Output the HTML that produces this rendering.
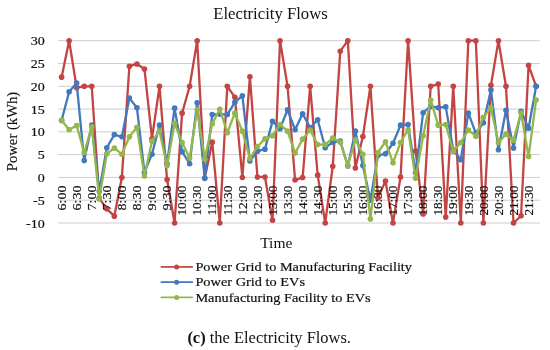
<!DOCTYPE html>
<html><head><meta charset="utf-8"><title>Electricity Flows</title>
<style>html,body{margin:0;padding:0;background:#fff}svg{display:block}text{font-family:"Liberation Serif",serif;fill:#111}</style></head><body>
<svg width="550" height="350" viewBox="0 0 550 350">
<rect width="550" height="350" fill="#fff"/>
<line x1="58.2" x2="539.8" y1="40.70" y2="40.70" stroke="#cdcdcd" stroke-width="1"/>
<text transform="translate(44.7,45.20) scale(1.04,1)" font-size="13.5" stroke="#111" stroke-width="0.2" text-anchor="end">30</text>
<line x1="58.2" x2="539.8" y1="63.49" y2="63.49" stroke="#cdcdcd" stroke-width="1"/>
<text transform="translate(44.7,67.99) scale(1.04,1)" font-size="13.5" stroke="#111" stroke-width="0.2" text-anchor="end">25</text>
<line x1="58.2" x2="539.8" y1="86.28" y2="86.28" stroke="#cdcdcd" stroke-width="1"/>
<text transform="translate(44.7,90.78) scale(1.04,1)" font-size="13.5" stroke="#111" stroke-width="0.2" text-anchor="end">20</text>
<line x1="58.2" x2="539.8" y1="109.06" y2="109.06" stroke="#cdcdcd" stroke-width="1"/>
<text transform="translate(44.7,113.56) scale(1.04,1)" font-size="13.5" stroke="#111" stroke-width="0.2" text-anchor="end">15</text>
<line x1="58.2" x2="539.8" y1="131.85" y2="131.85" stroke="#cdcdcd" stroke-width="1"/>
<text transform="translate(44.7,136.35) scale(1.04,1)" font-size="13.5" stroke="#111" stroke-width="0.2" text-anchor="end">10</text>
<line x1="58.2" x2="539.8" y1="154.64" y2="154.64" stroke="#cdcdcd" stroke-width="1"/>
<text transform="translate(44.7,159.14) scale(1.04,1)" font-size="13.5" stroke="#111" stroke-width="0.2" text-anchor="end">5</text>
<line x1="58.2" x2="539.8" y1="177.43" y2="177.43" stroke="#cdcdcd" stroke-width="1"/>
<text transform="translate(44.7,181.93) scale(1.04,1)" font-size="13.5" stroke="#111" stroke-width="0.2" text-anchor="end">0</text>
<line x1="58.2" x2="539.8" y1="200.21" y2="200.21" stroke="#cdcdcd" stroke-width="1"/>
<text transform="translate(44.7,204.71) scale(1.04,1)" font-size="13.5" stroke="#111" stroke-width="0.2" text-anchor="end">-5</text>
<line x1="58.2" x2="539.8" y1="223.00" y2="223.00" stroke="#cdcdcd" stroke-width="1"/>
<text transform="translate(44.7,227.50) scale(1.04,1)" font-size="13.5" stroke="#111" stroke-width="0.2" text-anchor="end">-10</text>
<polyline points="61.60,77.16 69.13,40.70 76.66,87.64 84.20,86.28 91.73,86.28 99.26,198.39 106.79,208.87 114.32,216.16 121.86,177.43 129.39,66.22 136.92,63.94 144.45,68.96 151.98,138.69 159.52,86.28 167.05,179.48 174.58,223.00 182.11,113.16 189.64,86.28 197.18,40.70 204.71,178.34 212.24,142.15 219.77,223.00 227.30,86.28 234.84,97.21 242.37,177.43 249.90,76.70 257.43,176.97 264.96,176.97 272.50,220.27 280.03,40.70 287.56,86.28 295.09,180.02 302.62,177.61 310.16,86.28 317.69,175.15 325.22,223.00 332.75,166.26 340.28,51.18 347.82,40.70 355.35,168.04 362.88,136.54 370.41,86.28 377.94,197.93 385.48,181.07 393.01,223.00 400.54,176.97 408.07,40.70 415.60,150.99 423.14,213.88 430.67,86.28 438.20,84.00 445.73,217.08 453.26,86.28 460.80,223.00 468.33,40.70 475.86,40.70 483.39,223.00 490.92,85.36 498.46,40.70 505.99,86.28 513.52,223.00 521.05,215.71 528.58,65.31 536.12,86.28" fill="none" stroke="#c24543" stroke-width="2.3" stroke-linejoin="round" stroke-linecap="round"/>
<g fill="#c24543"><circle cx="61.60" cy="77.16" r="2.8"/><circle cx="69.13" cy="40.70" r="2.8"/><circle cx="76.66" cy="87.64" r="2.8"/><circle cx="84.20" cy="86.28" r="2.8"/><circle cx="91.73" cy="86.28" r="2.8"/><circle cx="99.26" cy="198.39" r="2.8"/><circle cx="106.79" cy="208.87" r="2.8"/><circle cx="114.32" cy="216.16" r="2.8"/><circle cx="121.86" cy="177.43" r="2.8"/><circle cx="129.39" cy="66.22" r="2.8"/><circle cx="136.92" cy="63.94" r="2.8"/><circle cx="144.45" cy="68.96" r="2.8"/><circle cx="151.98" cy="138.69" r="2.8"/><circle cx="159.52" cy="86.28" r="2.8"/><circle cx="167.05" cy="179.48" r="2.8"/><circle cx="174.58" cy="223.00" r="2.8"/><circle cx="182.11" cy="113.16" r="2.8"/><circle cx="189.64" cy="86.28" r="2.8"/><circle cx="197.18" cy="40.70" r="2.8"/><circle cx="204.71" cy="178.34" r="2.8"/><circle cx="212.24" cy="142.15" r="2.8"/><circle cx="219.77" cy="223.00" r="2.8"/><circle cx="227.30" cy="86.28" r="2.8"/><circle cx="234.84" cy="97.21" r="2.8"/><circle cx="242.37" cy="177.43" r="2.8"/><circle cx="249.90" cy="76.70" r="2.8"/><circle cx="257.43" cy="176.97" r="2.8"/><circle cx="264.96" cy="176.97" r="2.8"/><circle cx="272.50" cy="220.27" r="2.8"/><circle cx="280.03" cy="40.70" r="2.8"/><circle cx="287.56" cy="86.28" r="2.8"/><circle cx="295.09" cy="180.02" r="2.8"/><circle cx="302.62" cy="177.61" r="2.8"/><circle cx="310.16" cy="86.28" r="2.8"/><circle cx="317.69" cy="175.15" r="2.8"/><circle cx="325.22" cy="223.00" r="2.8"/><circle cx="332.75" cy="166.26" r="2.8"/><circle cx="340.28" cy="51.18" r="2.8"/><circle cx="347.82" cy="40.70" r="2.8"/><circle cx="355.35" cy="168.04" r="2.8"/><circle cx="362.88" cy="136.54" r="2.8"/><circle cx="370.41" cy="86.28" r="2.8"/><circle cx="377.94" cy="197.93" r="2.8"/><circle cx="385.48" cy="181.07" r="2.8"/><circle cx="393.01" cy="223.00" r="2.8"/><circle cx="400.54" cy="176.97" r="2.8"/><circle cx="408.07" cy="40.70" r="2.8"/><circle cx="415.60" cy="150.99" r="2.8"/><circle cx="423.14" cy="213.88" r="2.8"/><circle cx="430.67" cy="86.28" r="2.8"/><circle cx="438.20" cy="84.00" r="2.8"/><circle cx="445.73" cy="217.08" r="2.8"/><circle cx="453.26" cy="86.28" r="2.8"/><circle cx="460.80" cy="223.00" r="2.8"/><circle cx="468.33" cy="40.70" r="2.8"/><circle cx="475.86" cy="40.70" r="2.8"/><circle cx="483.39" cy="223.00" r="2.8"/><circle cx="490.92" cy="85.36" r="2.8"/><circle cx="498.46" cy="40.70" r="2.8"/><circle cx="505.99" cy="86.28" r="2.8"/><circle cx="513.52" cy="223.00" r="2.8"/><circle cx="521.05" cy="215.71" r="2.8"/><circle cx="528.58" cy="65.31" r="2.8"/><circle cx="536.12" cy="86.28" r="2.8"/></g>
<text transform="translate(65.80,185.6) scale(0.92,1) rotate(-90)" font-size="14" stroke="#111" stroke-width="0.2" text-anchor="end">6:00</text>
<text transform="translate(80.86,185.6) scale(0.92,1) rotate(-90)" font-size="14" stroke="#111" stroke-width="0.2" text-anchor="end">6:30</text>
<text transform="translate(95.93,185.6) scale(0.92,1) rotate(-90)" font-size="14" stroke="#111" stroke-width="0.2" text-anchor="end">7:00</text>
<text transform="translate(110.99,185.6) scale(0.92,1) rotate(-90)" font-size="14" stroke="#111" stroke-width="0.2" text-anchor="end">7:30</text>
<text transform="translate(126.06,185.6) scale(0.92,1) rotate(-90)" font-size="14" stroke="#111" stroke-width="0.2" text-anchor="end">8:00</text>
<text transform="translate(141.12,185.6) scale(0.92,1) rotate(-90)" font-size="14" stroke="#111" stroke-width="0.2" text-anchor="end">8:30</text>
<text transform="translate(156.18,185.6) scale(0.92,1) rotate(-90)" font-size="14" stroke="#111" stroke-width="0.2" text-anchor="end">9:00</text>
<text transform="translate(171.25,185.6) scale(0.92,1) rotate(-90)" font-size="14" stroke="#111" stroke-width="0.2" text-anchor="end">9:30</text>
<text transform="translate(186.31,185.6) scale(0.92,1) rotate(-90)" font-size="14" stroke="#111" stroke-width="0.2" text-anchor="end" textLength="30" lengthAdjust="spacingAndGlyphs">10:00</text>
<text transform="translate(201.38,185.6) scale(0.92,1) rotate(-90)" font-size="14" stroke="#111" stroke-width="0.2" text-anchor="end" textLength="30" lengthAdjust="spacingAndGlyphs">10:30</text>
<text transform="translate(216.44,185.6) scale(0.92,1) rotate(-90)" font-size="14" stroke="#111" stroke-width="0.2" text-anchor="end" textLength="30" lengthAdjust="spacingAndGlyphs">11:00</text>
<text transform="translate(231.50,185.6) scale(0.92,1) rotate(-90)" font-size="14" stroke="#111" stroke-width="0.2" text-anchor="end" textLength="30" lengthAdjust="spacingAndGlyphs">11:30</text>
<text transform="translate(246.57,185.6) scale(0.92,1) rotate(-90)" font-size="14" stroke="#111" stroke-width="0.2" text-anchor="end" textLength="30" lengthAdjust="spacingAndGlyphs">12:00</text>
<text transform="translate(261.63,185.6) scale(0.92,1) rotate(-90)" font-size="14" stroke="#111" stroke-width="0.2" text-anchor="end" textLength="30" lengthAdjust="spacingAndGlyphs">12:30</text>
<text transform="translate(276.70,185.6) scale(0.92,1) rotate(-90)" font-size="14" stroke="#111" stroke-width="0.2" text-anchor="end" textLength="30" lengthAdjust="spacingAndGlyphs">13:00</text>
<text transform="translate(291.76,185.6) scale(0.92,1) rotate(-90)" font-size="14" stroke="#111" stroke-width="0.2" text-anchor="end" textLength="30" lengthAdjust="spacingAndGlyphs">13:30</text>
<text transform="translate(306.82,185.6) scale(0.92,1) rotate(-90)" font-size="14" stroke="#111" stroke-width="0.2" text-anchor="end" textLength="30" lengthAdjust="spacingAndGlyphs">14:00</text>
<text transform="translate(321.89,185.6) scale(0.92,1) rotate(-90)" font-size="14" stroke="#111" stroke-width="0.2" text-anchor="end" textLength="30" lengthAdjust="spacingAndGlyphs">14:30</text>
<text transform="translate(336.95,185.6) scale(0.92,1) rotate(-90)" font-size="14" stroke="#111" stroke-width="0.2" text-anchor="end" textLength="30" lengthAdjust="spacingAndGlyphs">15:00</text>
<text transform="translate(352.02,185.6) scale(0.92,1) rotate(-90)" font-size="14" stroke="#111" stroke-width="0.2" text-anchor="end" textLength="30" lengthAdjust="spacingAndGlyphs">15:30</text>
<text transform="translate(367.08,185.6) scale(0.92,1) rotate(-90)" font-size="14" stroke="#111" stroke-width="0.2" text-anchor="end" textLength="30" lengthAdjust="spacingAndGlyphs">16:00</text>
<text transform="translate(382.14,185.6) scale(0.92,1) rotate(-90)" font-size="14" stroke="#111" stroke-width="0.2" text-anchor="end" textLength="30" lengthAdjust="spacingAndGlyphs">16:30</text>
<text transform="translate(397.21,185.6) scale(0.92,1) rotate(-90)" font-size="14" stroke="#111" stroke-width="0.2" text-anchor="end" textLength="30" lengthAdjust="spacingAndGlyphs">17:00</text>
<text transform="translate(412.27,185.6) scale(0.92,1) rotate(-90)" font-size="14" stroke="#111" stroke-width="0.2" text-anchor="end" textLength="30" lengthAdjust="spacingAndGlyphs">17:30</text>
<text transform="translate(427.34,185.6) scale(0.92,1) rotate(-90)" font-size="14" stroke="#111" stroke-width="0.2" text-anchor="end" textLength="30" lengthAdjust="spacingAndGlyphs">18:00</text>
<text transform="translate(442.40,185.6) scale(0.92,1) rotate(-90)" font-size="14" stroke="#111" stroke-width="0.2" text-anchor="end" textLength="30" lengthAdjust="spacingAndGlyphs">18:30</text>
<text transform="translate(457.46,185.6) scale(0.92,1) rotate(-90)" font-size="14" stroke="#111" stroke-width="0.2" text-anchor="end" textLength="30" lengthAdjust="spacingAndGlyphs">19:00</text>
<text transform="translate(472.53,185.6) scale(0.92,1) rotate(-90)" font-size="14" stroke="#111" stroke-width="0.2" text-anchor="end" textLength="30" lengthAdjust="spacingAndGlyphs">19:30</text>
<text transform="translate(487.59,185.6) scale(0.92,1) rotate(-90)" font-size="14" stroke="#111" stroke-width="0.2" text-anchor="end" textLength="30" lengthAdjust="spacingAndGlyphs">20:00</text>
<text transform="translate(502.66,185.6) scale(0.92,1) rotate(-90)" font-size="14" stroke="#111" stroke-width="0.2" text-anchor="end" textLength="30" lengthAdjust="spacingAndGlyphs">20:30</text>
<text transform="translate(517.72,185.6) scale(0.92,1) rotate(-90)" font-size="14" stroke="#111" stroke-width="0.2" text-anchor="end" textLength="30" lengthAdjust="spacingAndGlyphs">21:00</text>
<text transform="translate(532.78,185.6) scale(0.92,1) rotate(-90)" font-size="14" stroke="#111" stroke-width="0.2" text-anchor="end" textLength="30" lengthAdjust="spacingAndGlyphs">21:30</text>
<polyline points="61.60,120.46 69.13,91.74 76.66,83.08 84.20,160.56 91.73,125.01 99.26,191.10 106.79,147.80 114.32,134.58 121.86,136.86 129.39,98.12 136.92,107.70 144.45,172.41 151.98,154.18 159.52,125.15 167.05,163.75 174.58,108.15 182.11,151.72 189.64,163.75 197.18,102.68 204.71,178.34 212.24,114.53 219.77,114.08 227.30,114.53 234.84,102.23 242.37,95.85 249.90,161.11 257.43,151.13 264.96,149.17 272.50,121.37 280.03,128.66 287.56,109.79 295.09,129.75 302.62,113.80 310.16,127.75 317.69,119.77 325.22,147.80 332.75,142.15 340.28,141.15 347.82,166.03 355.35,131.17 362.88,165.58 370.41,200.21 377.94,155.55 385.48,153.73 393.01,143.24 400.54,125.15 408.07,124.56 415.60,172.87 423.14,112.71 430.67,106.33 438.20,107.70 445.73,106.78 453.26,150.08 460.80,159.65 468.33,113.16 475.86,133.22 483.39,122.73 490.92,89.92 498.46,149.72 505.99,110.20 513.52,148.12 521.05,111.34 528.58,128.20 536.12,86.28" fill="none" stroke="#4178be" stroke-width="2.3" stroke-linejoin="round" stroke-linecap="round"/>
<g fill="#4178be"><circle cx="61.60" cy="120.46" r="2.8"/><circle cx="69.13" cy="91.74" r="2.8"/><circle cx="76.66" cy="83.08" r="2.8"/><circle cx="84.20" cy="160.56" r="2.8"/><circle cx="91.73" cy="125.01" r="2.8"/><circle cx="99.26" cy="191.10" r="2.8"/><circle cx="106.79" cy="147.80" r="2.8"/><circle cx="114.32" cy="134.58" r="2.8"/><circle cx="121.86" cy="136.86" r="2.8"/><circle cx="129.39" cy="98.12" r="2.8"/><circle cx="136.92" cy="107.70" r="2.8"/><circle cx="144.45" cy="172.41" r="2.8"/><circle cx="151.98" cy="154.18" r="2.8"/><circle cx="159.52" cy="125.15" r="2.8"/><circle cx="167.05" cy="163.75" r="2.8"/><circle cx="174.58" cy="108.15" r="2.8"/><circle cx="182.11" cy="151.72" r="2.8"/><circle cx="189.64" cy="163.75" r="2.8"/><circle cx="197.18" cy="102.68" r="2.8"/><circle cx="204.71" cy="178.34" r="2.8"/><circle cx="212.24" cy="114.53" r="2.8"/><circle cx="219.77" cy="114.08" r="2.8"/><circle cx="227.30" cy="114.53" r="2.8"/><circle cx="234.84" cy="102.23" r="2.8"/><circle cx="242.37" cy="95.85" r="2.8"/><circle cx="249.90" cy="161.11" r="2.8"/><circle cx="257.43" cy="151.13" r="2.8"/><circle cx="264.96" cy="149.17" r="2.8"/><circle cx="272.50" cy="121.37" r="2.8"/><circle cx="280.03" cy="128.66" r="2.8"/><circle cx="287.56" cy="109.79" r="2.8"/><circle cx="295.09" cy="129.75" r="2.8"/><circle cx="302.62" cy="113.80" r="2.8"/><circle cx="310.16" cy="127.75" r="2.8"/><circle cx="317.69" cy="119.77" r="2.8"/><circle cx="325.22" cy="147.80" r="2.8"/><circle cx="332.75" cy="142.15" r="2.8"/><circle cx="340.28" cy="141.15" r="2.8"/><circle cx="347.82" cy="166.03" r="2.8"/><circle cx="355.35" cy="131.17" r="2.8"/><circle cx="362.88" cy="165.58" r="2.8"/><circle cx="370.41" cy="200.21" r="2.8"/><circle cx="377.94" cy="155.55" r="2.8"/><circle cx="385.48" cy="153.73" r="2.8"/><circle cx="393.01" cy="143.24" r="2.8"/><circle cx="400.54" cy="125.15" r="2.8"/><circle cx="408.07" cy="124.56" r="2.8"/><circle cx="415.60" cy="172.87" r="2.8"/><circle cx="423.14" cy="112.71" r="2.8"/><circle cx="430.67" cy="106.33" r="2.8"/><circle cx="438.20" cy="107.70" r="2.8"/><circle cx="445.73" cy="106.78" r="2.8"/><circle cx="453.26" cy="150.08" r="2.8"/><circle cx="460.80" cy="159.65" r="2.8"/><circle cx="468.33" cy="113.16" r="2.8"/><circle cx="475.86" cy="133.22" r="2.8"/><circle cx="483.39" cy="122.73" r="2.8"/><circle cx="490.92" cy="89.92" r="2.8"/><circle cx="498.46" cy="149.72" r="2.8"/><circle cx="505.99" cy="110.20" r="2.8"/><circle cx="513.52" cy="148.12" r="2.8"/><circle cx="521.05" cy="111.34" r="2.8"/><circle cx="528.58" cy="128.20" r="2.8"/><circle cx="536.12" cy="86.28" r="2.8"/></g>
<polyline points="61.60,120.18 69.13,129.75 76.66,125.47 84.20,152.50 91.73,126.84 99.26,198.85 106.79,153.73 114.32,148.12 121.86,154.18 129.39,136.73 136.92,127.29 144.45,176.06 151.98,141.15 159.52,131.17 167.05,165.67 174.58,123.19 182.11,142.51 189.64,158.10 197.18,109.79 204.71,159.19 212.24,123.78 219.77,109.20 227.30,132.76 234.84,113.16 242.37,131.17 249.90,158.51 257.43,146.53 264.96,138.91 272.50,135.72 280.03,124.56 287.56,131.17 295.09,153.09 302.62,139.14 310.16,130.16 317.69,144.52 325.22,144.61 332.75,138.14 340.28,142.15 347.82,165.58 355.35,139.73 362.88,154.18 370.41,218.90 377.94,152.50 385.48,141.74 393.01,162.84 400.54,142.51 408.07,129.75 415.60,178.34 423.14,135.72 430.67,99.95 438.20,125.15 445.73,124.56 453.26,151.45 460.80,142.51 468.33,130.16 475.86,136.13 483.39,117.27 490.92,107.70 498.46,142.51 505.99,134.13 513.52,140.14 521.05,112.71 528.58,156.46 536.12,99.95" fill="none" stroke="#93b74c" stroke-width="2.3" stroke-linejoin="round" stroke-linecap="round"/>
<g fill="#93b74c"><circle cx="61.60" cy="120.18" r="2.8"/><circle cx="69.13" cy="129.75" r="2.8"/><circle cx="76.66" cy="125.47" r="2.8"/><circle cx="84.20" cy="152.50" r="2.8"/><circle cx="91.73" cy="126.84" r="2.8"/><circle cx="99.26" cy="198.85" r="2.8"/><circle cx="106.79" cy="153.73" r="2.8"/><circle cx="114.32" cy="148.12" r="2.8"/><circle cx="121.86" cy="154.18" r="2.8"/><circle cx="129.39" cy="136.73" r="2.8"/><circle cx="136.92" cy="127.29" r="2.8"/><circle cx="144.45" cy="176.06" r="2.8"/><circle cx="151.98" cy="141.15" r="2.8"/><circle cx="159.52" cy="131.17" r="2.8"/><circle cx="167.05" cy="165.67" r="2.8"/><circle cx="174.58" cy="123.19" r="2.8"/><circle cx="182.11" cy="142.51" r="2.8"/><circle cx="189.64" cy="158.10" r="2.8"/><circle cx="197.18" cy="109.79" r="2.8"/><circle cx="204.71" cy="159.19" r="2.8"/><circle cx="212.24" cy="123.78" r="2.8"/><circle cx="219.77" cy="109.20" r="2.8"/><circle cx="227.30" cy="132.76" r="2.8"/><circle cx="234.84" cy="113.16" r="2.8"/><circle cx="242.37" cy="131.17" r="2.8"/><circle cx="249.90" cy="158.51" r="2.8"/><circle cx="257.43" cy="146.53" r="2.8"/><circle cx="264.96" cy="138.91" r="2.8"/><circle cx="272.50" cy="135.72" r="2.8"/><circle cx="280.03" cy="124.56" r="2.8"/><circle cx="287.56" cy="131.17" r="2.8"/><circle cx="295.09" cy="153.09" r="2.8"/><circle cx="302.62" cy="139.14" r="2.8"/><circle cx="310.16" cy="130.16" r="2.8"/><circle cx="317.69" cy="144.52" r="2.8"/><circle cx="325.22" cy="144.61" r="2.8"/><circle cx="332.75" cy="138.14" r="2.8"/><circle cx="340.28" cy="142.15" r="2.8"/><circle cx="347.82" cy="165.58" r="2.8"/><circle cx="355.35" cy="139.73" r="2.8"/><circle cx="362.88" cy="154.18" r="2.8"/><circle cx="370.41" cy="218.90" r="2.8"/><circle cx="377.94" cy="152.50" r="2.8"/><circle cx="385.48" cy="141.74" r="2.8"/><circle cx="393.01" cy="162.84" r="2.8"/><circle cx="400.54" cy="142.51" r="2.8"/><circle cx="408.07" cy="129.75" r="2.8"/><circle cx="415.60" cy="178.34" r="2.8"/><circle cx="423.14" cy="135.72" r="2.8"/><circle cx="430.67" cy="99.95" r="2.8"/><circle cx="438.20" cy="125.15" r="2.8"/><circle cx="445.73" cy="124.56" r="2.8"/><circle cx="453.26" cy="151.45" r="2.8"/><circle cx="460.80" cy="142.51" r="2.8"/><circle cx="468.33" cy="130.16" r="2.8"/><circle cx="475.86" cy="136.13" r="2.8"/><circle cx="483.39" cy="117.27" r="2.8"/><circle cx="490.92" cy="107.70" r="2.8"/><circle cx="498.46" cy="142.51" r="2.8"/><circle cx="505.99" cy="134.13" r="2.8"/><circle cx="513.52" cy="140.14" r="2.8"/><circle cx="521.05" cy="112.71" r="2.8"/><circle cx="528.58" cy="156.46" r="2.8"/><circle cx="536.12" cy="99.95" r="2.8"/></g>
<text x="213.3" y="18.6" font-size="16" textLength="114.4" lengthAdjust="spacingAndGlyphs">Electricity Flows</text>
<text x="260.2" y="248" font-size="15" textLength="32.2" lengthAdjust="spacingAndGlyphs">Time</text>
<text transform="translate(16.7,131.5) scale(1.05,1) rotate(-90)" font-size="14.67" stroke="#111" stroke-width="0.15" text-anchor="middle">Power (kWh)</text>
<line x1="161.4" x2="192.2" y1="266.90" y2="266.90" stroke="#c24543" stroke-width="1.8" stroke-linecap="round"/>
<circle cx="176.6" cy="266.90" r="2.5" fill="#c24543"/>
<text x="195.4" y="271.20" font-size="13.4" stroke="#111" stroke-width="0.2" textLength="216.6" lengthAdjust="spacingAndGlyphs">Power Grid to Manufacturing Facility</text>
<line x1="161.4" x2="192.2" y1="282.15" y2="282.15" stroke="#4178be" stroke-width="1.8" stroke-linecap="round"/>
<circle cx="176.6" cy="282.15" r="2.5" fill="#4178be"/>
<text x="195.4" y="286.45" font-size="13.4" stroke="#111" stroke-width="0.2" textLength="109.6" lengthAdjust="spacingAndGlyphs">Power Grid to EVs</text>
<line x1="161.4" x2="192.2" y1="297.40" y2="297.40" stroke="#93b74c" stroke-width="1.8" stroke-linecap="round"/>
<circle cx="176.6" cy="297.40" r="2.5" fill="#93b74c"/>
<text x="195.4" y="301.70" font-size="13.4" stroke="#111" stroke-width="0.2" textLength="175.3" lengthAdjust="spacingAndGlyphs">Manufacturing Facility to EVs</text>
<text x="187.4" y="343.3" font-size="16.5" textLength="163.6" lengthAdjust="spacingAndGlyphs"><tspan font-weight="bold">(c)</tspan> the Electricity Flows.</text>
</svg></body></html>
